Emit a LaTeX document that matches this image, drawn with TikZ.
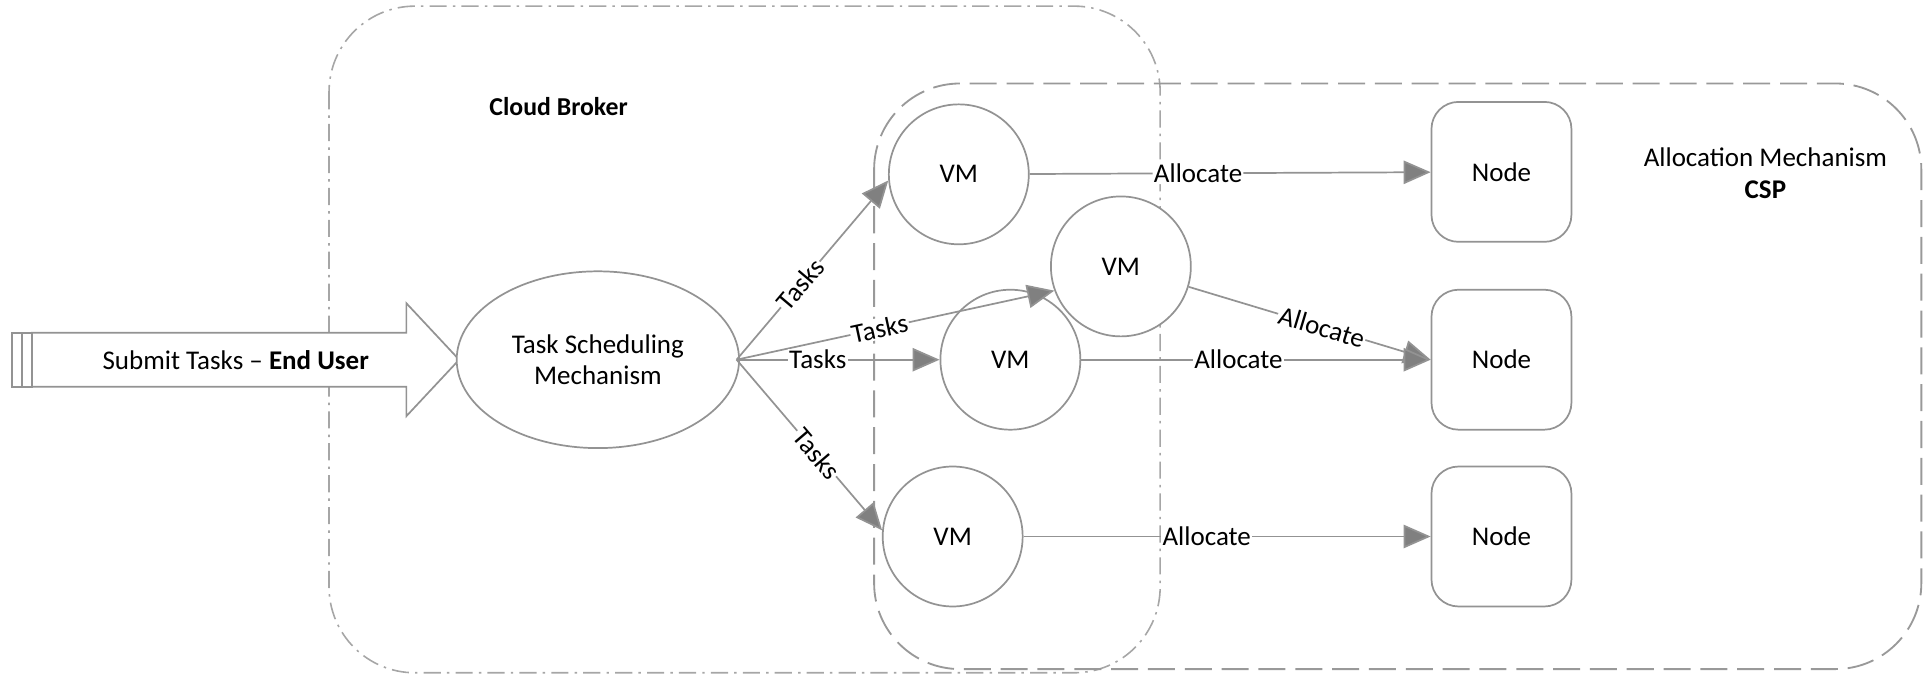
\documentclass[tikz,border=0pt]{standalone}
\usepackage{fontspec}
\setmainfont{Carlito}
\usetikzlibrary{arrows.meta,shapes.geometric,shapes.arrows}
\begin{document}
\begin{tikzpicture}[x=1pt,y=-1pt,
  every node/.style={font=\fontsize{22}{26}\selectfont},
  ln/.style={draw=gray!85,line width=1.4pt},
  vm/.style={circle,ln,minimum size=114pt,inner sep=0pt,fill=white},
  nd/.style={rounded corners=22pt,ln,minimum size=114pt,inner sep=0pt,fill=white},
  arr/.style={draw=gray!85,line width=1.4pt,-{Triangle[length=22pt,width=19pt,fill=gray]}},
  lab/.style={fill=white,inner sep=1pt,sloped}]
\useasboundingbox (0,0) rectangle (1568,553);
% boxes
\draw[gray!70,line width=1.3pt,dash pattern=on 14pt off 5pt on 2pt off 5pt,rounded corners=70pt] (268,5) rectangle (945,548);
\draw[gray!80,line width=1.5pt,dash pattern=on 22pt off 8pt,rounded corners=70pt] (712,68) rectangle (1565,545);
\node[font=\fontsize{21}{25}\selectfont\bfseries] (cb) at (455,87) {Cloud Broker};
\node[align=center] (csp) at (1438,141) {Allocation Mechanism\\\textbf{CSP}};
% big arrow
\draw[ln,fill=white] (26,271) -- (331,271) -- (331,247) -- (374,293) -- (331,339) -- (331,315) -- (26,315) -- cycle;
\draw[ln] (10,271) rectangle (26,315);
\draw[ln] (18,271) -- (18,315);
\node (sub) at (192,293) {Submit Tasks -- \textbf{End User}};
% ellipse
\node[ellipse,ln,minimum width=230pt,minimum height=144pt,align=center,fill=white] (ts) at (487,293) {Task Scheduling\\Mechanism};
% VMs
\node[vm] (v1) at (781,142) {VM};
\node[vm] (v2) at (913,217) {VM};
\node[vm] (v3) at (823,293) {VM};
\node[vm] (v4) at (776,437) {VM};
% Nodes
\node[nd] (n1) at (1223,140) {Node};
\node[nd] (n2) at (1223,293) {Node};
\node[nd] (n3) at (1223,437) {Node};
% tasks
\coordinate (src) at (600,293);
\draw[arr] (src) -- node[lab,pos=0.42] {Tasks} (v1.185);
\draw[arr] (src) -- node[lab,pos=0.45] {Tasks} (v2.200);
\draw[arr] (src) -- node[lab,pos=0.4] {Tasks} (v3);
\draw[arr] (src) -- node[lab,pos=0.55] {Tasks} (v4.175);
% allocate
\draw[arr] (v1) -- node[lab,pos=0.42] {Allocate} (n1);
\draw[arr] (v2) -- node[lab,pos=0.55] {Allocate} (n2.west);
\draw[arr] (v3) -- node[lab,pos=0.45] {Allocate} (n2);
\draw[arr] (v4) -- node[lab,pos=0.45] {Allocate} (n3);
\end{tikzpicture}
\end{document}
